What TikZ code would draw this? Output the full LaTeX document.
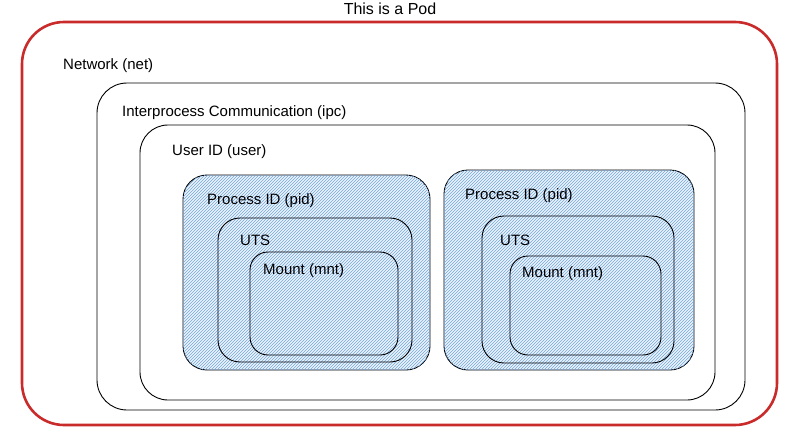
\documentclass[tikz,border=0pt]{standalone}
\usepackage{fontspec}
\setmainfont{Liberation Sans}
\usetikzlibrary{patterns}
\definecolor{podred}{HTML}{C92A2A}
\definecolor{hatch}{HTML}{4A90D9}
\definecolor{hatchbg}{HTML}{EEF4FB}
\begin{document}
\begin{tikzpicture}[x=1pt,y=-1pt,
  box/.style={draw=black,line width=0.9pt,rounded corners=#1,inner sep=0pt},
  box/.default=22pt,
  lbl/.style={anchor=west,font=\fontsize{15}{17}\selectfont,inner sep=0pt},
  bluebox/.style={box=24pt,fill=hatchbg,postaction={pattern=north east lines,pattern color=hatch!80}}]
\useasboundingbox (0,0) rectangle (785,431);
\newcommand{\bx}[6]{\node[#6,minimum width=#4-#2,minimum height=#5-#3] (#1) at ({(#2+#4)/2},{(#3+#5)/2}) {};}
\bx{pod}{22}{22}{777}{425}{box=42pt,draw=podred,line width=2.6pt}
\bx{net}{97}{83}{745}{410}{box=30pt}
\bx{ipc}{140}{125}{715}{400}{box=28pt}
\bx{pa}{183}{175}{430}{370}{bluebox}
\bx{ua}{218}{218}{412}{362}{box=22pt}
\bx{ma}{250}{252}{398}{355}{box=18pt}
\bx{pb}{444}{170}{694}{370}{bluebox}
\bx{ub}{482}{216}{674}{363}{box=22pt}
\bx{mb}{510}{256}{661}{355}{box=18pt}
\node[font=\fontsize{16}{18}\selectfont,inner sep=0pt] (t) at (390,9) {This is a Pod};
\node[lbl] (l1) at (63,66) {Network (net)};
\node[lbl] (l2) at (122,113) {Interprocess Communication (ipc)};
\node[lbl] (l3) at (172,152) {User ID (user)};
\node[lbl] (l4) at (207,201) {Process ID (pid)};
\node[lbl] (l5) at (240,240) {UTS};
\node[lbl] (l6) at (263,271) {Mount (mnt)};
\node[lbl] (l7) at (465,196) {Process ID (pid)};
\node[lbl] (l8) at (500,240) {UTS};
\node[lbl] (l9) at (522,274) {Mount (mnt)};
\end{tikzpicture}
\end{document}
